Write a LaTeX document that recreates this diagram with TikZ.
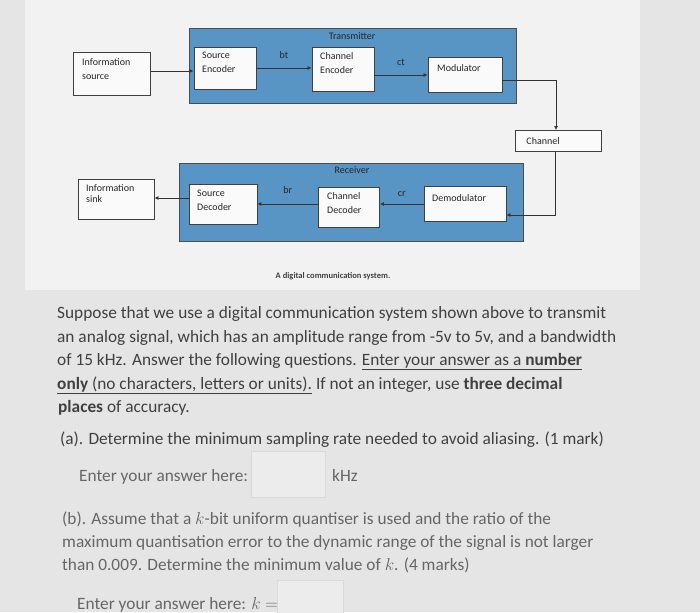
\documentclass[tikz,border=0pt]{standalone}
\usepackage{fontspec}
\setmainfont{Carlito}
\usetikzlibrary{arrows.meta}
\definecolor{grpblue}{RGB}{88,148,196}
\begin{document}
\begin{tikzpicture}[x=1pt,y=-1pt,
  blk/.style={draw=black!75,line width=0.9pt,fill=white!96!gray,inner sep=0pt},
  grp/.style={draw=black!70,line width=1pt,fill=grpblue},
  con/.style={draw=black!80,line width=0.7pt,-{Latex[length=4pt,width=4pt]}},
  lab/.style={font=\fontsize{10}{11}\selectfont,text=black!85,align=left,inner sep=0pt},
  txt/.style={anchor=base west,font=\fontsize{17.3}{19}\selectfont,text=black!75,inner sep=0pt}]
\fill[black!10] (0,0) rectangle (700,612);
\fill[white!90!gray] (25,0) rectangle (640,290);
\useasboundingbox (0,0) rectangle (700,612);
% groups
\draw[grp] (189,29) rectangle (516,104);
\node[lab] (tx) at (352,36) {Transmitter};
\draw[grp] (179,164) rectangle (523,241);
\node[lab] (rx) at (352,170) {Receiver};
% blocks
\node[blk,minimum width=77pt,minimum height=43pt] (is) at (112,74) {};
\node[lab,anchor=north west] (ist) at (82,58) {Information\\[3pt]source};
\node[blk,minimum width=62pt,minimum height=42pt] (se) at (225,68) {};
\node[lab,anchor=north west] (set) at (202,52) {Source\\[3pt]Encoder};
\node[blk,minimum width=62pt,minimum height=44pt] (ce) at (343,69) {};
\node[lab,anchor=north west] (cet) at (320,52) {Channel\\[3pt]Encoder};
\node[blk,minimum width=74pt,minimum height=35pt] (mo) at (465,75) {};
\node[lab,anchor=north west] (mot) at (437,64) {Modulator};
\node[blk,minimum width=86pt,minimum height=21pt] (ch) at (558,141) {};
\node[lab] (cht) at (543,141) {Channel};
\node[blk,minimum width=76pt,minimum height=40pt] (sk) at (116,199) {};
\node[lab,anchor=north west] (skt) at (86,184) {Information\\sink};
\node[blk,minimum width=68pt,minimum height=40pt] (sd) at (223,204) {};
\node[lab,anchor=north west] (sdt) at (197,190) {Source\\[3pt]Decoder};
\node[blk,minimum width=61pt,minimum height=40pt] (cd) at (349,207) {};
\node[lab,anchor=north west] (cdt) at (327,192) {Channel\\[3pt]Decoder};
\node[blk,minimum width=82pt,minimum height=35pt] (dm) at (465,204) {};
\node[lab,anchor=north west] (dmt) at (432,194) {Demodulator};
% connectors
\draw[con] (is.east|-0,71) -- (se.west|-0,71);
\draw[con] (se.east) -- (ce.west|-se.east) node[lab,midway,above=9pt] (bt) {bt};
\draw[con] (ce.east|-mo.west) -- (mo.west) node[lab,midway,above=9pt] (ct) {ct};
\draw[con] (mo.east|-0,80) -| (ch.north-|556,0);
\draw[con] (ch.south-|555,0) |- (dm.east|-0,215);
\draw[con] (dm.west) -- (cd.east|-dm.west) node[lab,midway,above=7pt] (cr) {cr};
\draw[con] (cd.west|-sd.east) -- (sd.east) node[lab,midway,above=10pt] (br) {br};
\draw[con] (sd.west|-0,198) -- (sk.east|-0,198);
\node[font=\fontsize{8.5}{9}\selectfont\bfseries,text=black!75] (cap) at (333,276) {A digital communication system.};
% question text
\node[txt] (l1) at (57,318) {Suppose that we use a digital communication system shown above to transmit};
\node[txt] (l2) at (57,342) {an analog signal, which has an amplitude range from -5v to 5v, and a bandwidth};
\node[txt] (l3) at (57,365) {of 15 kHz. Answer the following questions. \underline{Enter your answer as a \textbf{number}}};
\node[txt] (l4) at (57,389) {\underline{\textbf{only} (no characters, letters or units).} If not an integer, use \textbf{three decimal}};
\node[txt] (l5) at (58,412) {\textbf{places} of accuracy.};
\node[txt] (l6) at (60,444) {(a). Determine the minimum sampling rate needed to avoid aliasing. (1 mark)};
\node[txt,text=black!60] (l7) at (79,481) {Enter your answer here:};
\node[draw=black!15,fill=white!85!gray,minimum width=74pt,minimum height=46pt] (box1) at (288,474) {};
\node[txt,text=black!60] (l8) at (332,481) {kHz};
\node[txt,text=black!60] (l9) at (62,524) {(b). Assume that a $k$-bit uniform quantiser is used and the ratio of the};
\node[txt,text=black!60] (l10) at (62,547) {maximum quantisation error to the dynamic range of the signal is not larger};
\node[txt,text=black!60] (l11) at (62,570) {than 0.009. Determine the minimum value of $k$. (4 marks)};
\node[draw=black!15,fill=white!85!gray,minimum width=66pt,minimum height=40pt] (box2) at (310,600) {};
\node[txt,text=black!60] (l12) at (77,609) {Enter your answer here: $k=$};
\end{tikzpicture}
\end{document}
